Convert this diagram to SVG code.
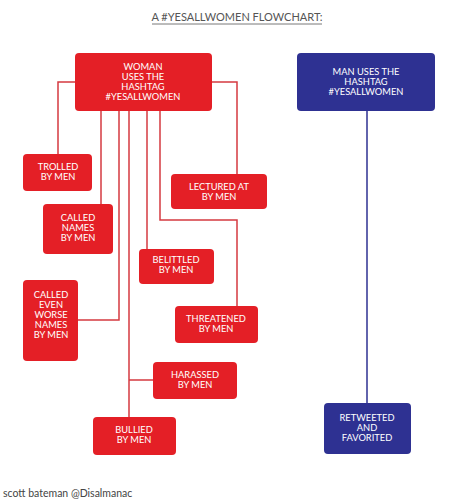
<svg xmlns="http://www.w3.org/2000/svg" width="474" height="503" viewBox="0 0 474 503">
<style>
.r{fill:#e41f26}
.b{fill:#2e3192}
.t{font-family:Lato,"Liberation Sans",sans-serif;font-size:9.3px;fill:#fff;text-anchor:middle}
.rl{fill:none;stroke:#d53a40;stroke-width:1.5}
.bl{fill:none;stroke:#2e3192;stroke-width:1.5}
</style>
<rect width="474" height="503" fill="#fff"/>
<g id="title">
<text x="237" y="21" font-family="Lato,'Liberation Sans',sans-serif" font-size="11" fill="#555" text-anchor="middle">A #YESALLWOMEN FLOWCHART:</text>
<line x1="152" y1="24" x2="322" y2="24" stroke="#555" stroke-width="0.8"/>
</g>
<g id="connectors">
<path class="rl" d="M75 82H58V154"/>
<path class="rl" d="M212 82H237V174"/>
<path class="rl" d="M101 111V204"/>
<path class="rl" d="M119 111V320H78"/>
<path class="rl" d="M129 111V417M129 380H153"/>
<path class="rl" d="M147 111V249"/>
<path class="rl" d="M160 111V220H237V306"/>
<path class="bl" d="M367 111V403"/>
</g>
<g id="woman">
<rect class="r" x="75" y="53" width="137" height="58" rx="4"/>
<text class="t"><tspan x="143" y="70">WOMAN</tspan><tspan x="143" y="80">USES THE</tspan><tspan x="143" y="90">HASHTAG</tspan><tspan x="143" y="100">#YESALLWOMEN</tspan></text>
</g>
<g id="man">
<rect class="b" x="297" y="53" width="138" height="58" rx="4"/>
<text class="t"><tspan x="366" y="75">MAN USES THE</tspan><tspan x="366" y="85">HASHTAG</tspan><tspan x="366" y="95">#YESALLWOMEN</tspan></text>
</g>
<g id="trolled">
<rect class="r" x="23" y="154" width="69" height="37" rx="4"/>
<text class="t"><tspan x="58" y="170">TROLLED</tspan><tspan x="58" y="180">BY MEN</tspan></text>
</g>
<g id="lectured">
<rect class="r" x="171" y="174" width="96" height="35" rx="4"/>
<text class="t"><tspan x="219" y="190">LECTURED AT</tspan><tspan x="219" y="200">BY MEN</tspan></text>
</g>
<g id="called">
<rect class="r" x="43" y="204" width="70" height="50" rx="4"/>
<text class="t"><tspan x="78" y="221">CALLED</tspan><tspan x="78" y="231">NAMES</tspan><tspan x="78" y="241">BY MEN</tspan></text>
</g>
<g id="belittled">
<rect class="r" x="139" y="249" width="75" height="35" rx="4"/>
<text class="t"><tspan x="176" y="263">BELITTLED</tspan><tspan x="176" y="273">BY MEN</tspan></text>
</g>
<g id="worse">
<rect class="r" x="23" y="280" width="55" height="81" rx="4"/>
<text class="t"><tspan x="51" y="298">CALLED</tspan><tspan x="51" y="308">EVEN</tspan><tspan x="51" y="318">WORSE</tspan><tspan x="51" y="328">NAMES</tspan><tspan x="51" y="338">BY MEN</tspan></text>
</g>
<g id="threatened">
<rect class="r" x="175" y="306" width="83" height="37" rx="4"/>
<text class="t"><tspan x="216" y="322">THREATENED</tspan><tspan x="216" y="332">BY MEN</tspan></text>
</g>
<g id="harassed">
<rect class="r" x="153" y="362" width="84" height="37" rx="4"/>
<text class="t"><tspan x="195" y="378">HARASSED</tspan><tspan x="195" y="388">BY MEN</tspan></text>
</g>
<g id="bullied">
<rect class="r" x="93" y="417" width="83" height="38" rx="4"/>
<text class="t"><tspan x="134" y="433">BULLIED</tspan><tspan x="134" y="443">BY MEN</tspan></text>
</g>
<g id="retweeted">
<rect class="b" x="324" y="403" width="87" height="51" rx="4"/>
<text class="t"><tspan x="367" y="421">RETWEETED</tspan><tspan x="367" y="431">AND</tspan><tspan x="367" y="441">FAVORITED</tspan></text>
</g>
<text x="3" y="497" font-family="Lato,'Liberation Sans',sans-serif" font-size="10.5" fill="#444">scott bateman @Disalmanac</text>
</svg>
